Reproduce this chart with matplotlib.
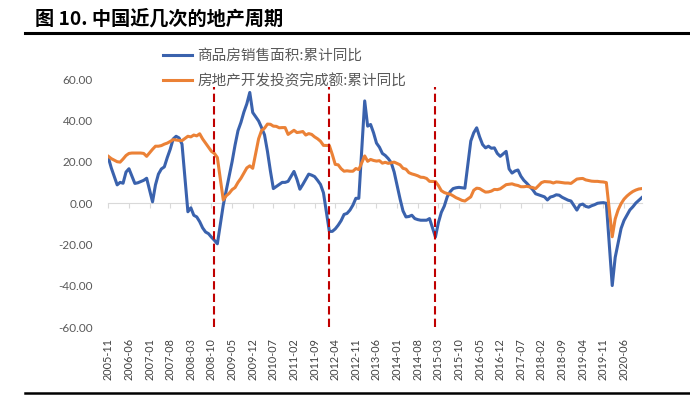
import numpy as np
import pandas as pd
import matplotlib
matplotlib.use("Agg")
import matplotlib.pyplot as plt
from matplotlib.lines import Line2D

plt.rcParams['font.family'] = ['Noto Sans CJK SC', 'DejaVu Sans']

# monthly categories 2005-11 .. 2020-12 (January is blank in the source data)
months = pd.period_range('2005-11', '2020-12', freq='M').strftime('%Y-%m').tolist()

# 商品房销售面积:累计同比 (%)
sales_area = [
    22.0, 17.0,
    None, 8.8, 10.0, 9.6, 15.0, 16.6, 13.0, 9.5, 9.8, 10.4, 11.0, 12.0,
    None, 0.6, 8.8, 14.0, 16.5, 17.5, 22.0, 26.0, 31.0, 32.3, 31.5, 28.5,
    None, -4.2, -2.3, -5.9, -6.7, -9.0, -12.0, -14.0, -14.8, -16.5, -18.0, -19.7,
    None, -1.0, 6.0, 12.8, 20.0, 28.0, 35.0, 39.0, 44.0, 48.0, 53.5, 43.8,
    None, 39.7, 36.5, 33.0, 25.0, 15.5, 7.0, 8.0, 9.0, 10.0, 10.0, 10.5,
    None, 15.3, 11.5, 6.7, 9.0, 11.5, 14.0, 13.5, 12.8, 11.0, 9.0, 5.0,
    None, -13.7, -13.7, -12.5, -10.7, -8.5, -5.5, -5.0, -3.4, -1.0, 2.3, 2.3,
    None, 49.4, 37.2, 38.0, 34.0, 29.0, 27.0, 24.0, 23.0, 21.5, 19.5, 15.0,
    None, 2.0, -3.8, -6.7, -6.5, -5.9, -7.5, -8.0, -8.3, -8.3, -8.3, -7.5,
    None, -16.4, -9.5, -4.5, -1.5, 3.0, 5.5, 7.0, 7.4, 7.6, 7.4, 7.2,
    None, 30.0, 34.0, 36.4, 32.0, 28.3, 26.7, 27.5, 26.5, 26.7, 24.0, 22.6,
    None, 25.0, 16.5, 14.5, 15.5, 16.0, 13.0, 11.0, 9.6, 8.0, 6.5, 4.5,
    None, 3.5, 3.0, 1.5, 2.9, 3.3, 4.0, 3.8, 2.8, 2.1, 1.4, 1.0,
    None, -3.4, -0.9, -0.5, -1.6, -2.0, -1.3, -0.8, -0.1, 0.1, 0.2, -0.1,
    None, -39.9, -26.3, -19.3, -12.3, -8.4, -5.8, -3.3, -1.8, 0.0, 1.3, 2.6,
]

# 房地产开发投资完成额:累计同比 (%)
investment = [
    22.6, 21.5,
    None, 20.0, 19.8, 21.3, 23.0, 24.0, 24.2, 24.2, 24.2, 24.2, 24.0, 22.6,
    None, 26.0, 27.5, 27.5, 27.8, 28.5, 29.0, 29.8, 30.7, 30.5, 30.3, 30.2,
    None, 32.3, 32.0, 32.9, 32.5, 33.5, 31.0, 29.0, 27.0, 25.0, 24.0, 22.0,
    None, 1.5, 3.5, 4.7, 6.5, 7.5, 10.0, 12.0, 14.5, 17.0, 18.0, 16.8,
    None, 31.1, 35.1, 36.2, 38.2, 38.1, 37.2, 37.1, 36.4, 36.5, 36.5, 33.2,
    None, 35.2, 34.1, 34.3, 34.6, 32.9, 33.6, 33.2, 32.0, 31.1, 29.9, 27.9,
    None, 27.8, 23.5, 18.7, 18.5, 16.6, 15.4, 15.6, 15.4, 15.4, 16.7, 16.2,
    None, 22.8, 20.2, 21.1, 20.6, 20.3, 20.5, 19.3, 19.7, 19.2, 19.5, 19.8,
    None, 18.5, 16.8, 16.4, 14.7, 14.1, 13.7, 13.2, 12.5, 12.4, 11.9, 10.5,
    None, 10.4, 8.5, 6.0, 5.1, 4.6, 4.3, 3.5, 2.6, 2.0, 1.3, 1.0,
    None, 3.0, 6.2, 7.2, 7.0, 6.1, 5.3, 5.4, 5.8, 6.6, 6.5, 6.9,
    None, 8.9, 9.1, 9.3, 8.8, 8.5, 7.9, 7.9, 8.1, 7.8, 7.5, 7.0,
    None, 9.9, 10.4, 10.3, 10.2, 9.7, 10.2, 10.1, 9.9, 9.7, 9.7, 9.5,
    None, 11.6, 11.8, 11.9, 11.2, 10.9, 10.6, 10.5, 10.5, 10.3, 10.2, 9.9,
    None, -16.3, -7.7, -3.3, -0.3, 1.9, 3.4, 4.6, 5.6, 6.3, 6.8, 7.0,
]

series_names = ['商品房销售面积:累计同比', '房地产开发投资完成额:累计同比']
cycle_bottoms = ['2008-11', '2012-02', '2015-02']
y_ticks = [-60, -40, -20, 0, 20, 40, 60]

x = np.arange(len(months))
fig = plt.figure(figsize=(6.9, 3.97), dpi=100)
ax = fig.add_axes([0.157, 0.176, 0.773, 0.625])

for vals, color, name in [(sales_area, '#3A62AD', series_names[0]),
                          (investment, '#EB8136', series_names[1])]:
    v = np.array(vals, dtype=float)
    ok = ~np.isnan(v)
    ax.plot(x[ok], v[ok], color=color, lw=2.2, label=name, solid_joinstyle='round')

for m in cycle_bottoms:
    ax.axvline(months.index(m), ymin=0, ymax=0.967, color='#C00000', lw=1.5,
               linestyle=(0, (4, 2)), zorder=5)

ax.set_xlim(0, len(months) - 1)
ax.set_ylim(-60, 60)
ax.set_yticks(y_ticks)
ax.set_yticklabels([f'{t:.2f}' for t in y_ticks], family='Lato')
ax.tick_params(axis='y', length=0, pad=11, labelsize=8.5, labelcolor='#595959')

for s in ['top', 'right', 'left']:
    ax.spines[s].set_visible(False)
ax.spines['bottom'].set_position(('data', 0))
ax.spines['bottom'].set_color('#D9D9D9')
ax.spines['bottom'].set_zorder(0)
tick_idx = x[::7]
ax.set_xticks(tick_idx)
ax.tick_params(axis='x', direction='out', length=3.5, color='#D9D9D9', labelbottom=False)

sec = ax.secondary_xaxis(0)
sec.set_xticks(tick_idx, labels=[months[i] for i in tick_idx])
sec.tick_params(length=0, pad=8, labelrotation=90, labelsize=7.8, labelcolor='#404040')
for lab in sec.get_xticklabels():
    lab.set_family('Lato')
sec.spines['bottom'].set_visible(False)

fig.legend(loc='upper left', bbox_to_anchor=(0.226, 0.895), frameon=False,
           fontsize=10.5, handlelength=2.0, handletextpad=0.35, labelspacing=0.75,
           borderpad=0, labelcolor='#595959')

fig.text(0.051, 0.953, '图 10. 中国近几次的地产周期', fontsize=13.8, weight='bold',
         va='center', ha='left')
fig.add_artist(Line2D([25 / 690, 1], [1 - 33 / 397] * 2, color='black', lw=2.2))
fig.add_artist(Line2D([25 / 690, 1], [1 - 393 / 397] * 2, color='black', lw=1.8))

fig.savefig('out.png', dpi=100)
